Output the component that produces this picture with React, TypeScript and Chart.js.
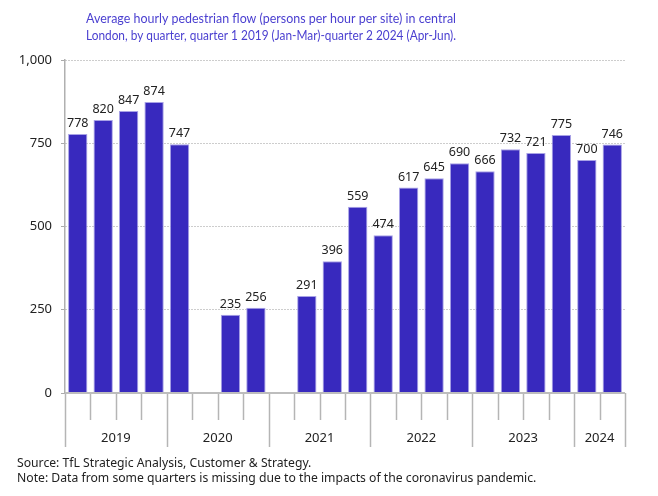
import React, { useEffect, useRef } from "react";
import { Chart, registerables } from "chart.js";

Chart.register(...registerables);

const quarters: string[] = [
  "2019 Q1", "2019 Q2", "2019 Q3", "2019 Q4",
  "2020 Q1", "2020 Q2", "2020 Q3", "2020 Q4",
  "2021 Q1", "2021 Q2", "2021 Q3", "2021 Q4",
  "2022 Q1", "2022 Q2", "2022 Q3", "2022 Q4",
  "2023 Q1", "2023 Q2", "2023 Q3", "2023 Q4",
  "2024 Q1", "2024 Q2",
];
const flow: (number | null)[] = [
  778, 820, 847, 874,
  747, null, 235, 256,
  null, 291, 396, 559,
  474, 617, 645, 690,
  666, 732, 721, 775,
  700, 746,
];
const years: string[] = ["2019", "2020", "2021", "2022", "2023", "2024"];
const yTicks: number[] = [0, 250, 500, 750, 1000];
const titleLines: string[] = [
  "Average hourly pedestrian flow (persons per hour per site) in central",
  "London, by quarter, quarter 1 2019 (Jan-Mar)-quarter 2 2024 (Apr-Jun).",
];
const notes: string[] = [
  "Source: TfL Strategic Analysis, Customer & Strategy.",
  "Note: Data from some quarters is missing due to the impacts of the coronavirus pandemic.",
];

const FONT = "'Noto Sans', sans-serif";
const TITLE_FONT = "Lato, sans-serif";

export default function App() {
  const ref = useRef<HTMLCanvasElement>(null);
  useEffect(() => {
    if (!ref.current) return;
    const decor = {
      id: "decor",
      afterDatasetsDraw(chart: any) {
        const ctx = chart.ctx;
        const xs = chart.scales.x;
        const ys = chart.scales.y;
        const area = chart.chartArea;
        ctx.save();
        // value labels
        ctx.fillStyle = "#222";
        ctx.font = `12.5px ${FONT}`;
        ctx.textAlign = "center";
        ctx.textBaseline = "alphabetic";
        const meta = chart.getDatasetMeta(0);
        meta.data.forEach((el: any, i: number) => {
          const v = flow[i];
          if (v == null) return;
          ctx.fillText(String(v), el.x, el.y - 7);
        });
        // x axis line and ticks
        const y0 = ys.getPixelForValue(0);
        const half = (xs.getPixelForValue(1) - xs.getPixelForValue(0)) / 2;
        ctx.strokeStyle = "#b5b5b5";
        ctx.lineWidth = 1.5;
        for (let i = 0; i <= quarters.length; i++) {
          const x =
            i < quarters.length
              ? xs.getPixelForValue(i) - half
              : xs.getPixelForValue(quarters.length - 1) + half;
          const isYear = i % 4 === 0 || i === quarters.length;
          ctx.beginPath();
          ctx.moveTo(Math.round(x) + 0.5, y0);
          ctx.lineTo(Math.round(x) + 0.5, y0 + (isYear ? 54 : 27));
          ctx.stroke();
        }
        ctx.lineWidth = 2;
        ctx.strokeStyle = "#bdbdbd";
        ctx.beginPath();
        ctx.moveTo(area.left, y0);
        ctx.lineTo(area.right, y0);
        ctx.stroke();
        // year labels
        ctx.fillStyle = "#222";
        ctx.font = `13px ${FONT}`;
        ctx.textBaseline = "middle";
        years.forEach((yr, k) => {
          const first = k * 4;
          const last = Math.min(first + 3, quarters.length - 1);
          const cx = (xs.getPixelForValue(first) + xs.getPixelForValue(last)) / 2;
          ctx.fillText(yr, cx, y0 + 45);
        });
        // title (slightly condensed to match the narrow original face)
        ctx.fillStyle = "#4a3fd0";
        ctx.font = `13.8px ${TITLE_FONT}`;
        ctx.textAlign = "left";
        ctx.textBaseline = "alphabetic";
        const targetW = 370;
        titleLines.forEach((t, k) => {
          const w = ctx.measureText(t).width;
          const sx = Math.min(1, targetW / w);
          ctx.save();
          ctx.translate(86, 23 + k * 17);
          ctx.scale(sx, 1);
          ctx.fillText(t, 0, 0);
          ctx.restore();
        });
        // notes
        ctx.fillStyle = "#222";
        ctx.font = `12.2px ${FONT}`;
        notes.forEach((t, k) => ctx.fillText(t, 17, 467 + k * 15));
        ctx.restore();
      },
    };
    const chart = new Chart(ref.current, {
      type: "bar",
      data: {
        labels: quarters,
        datasets: [
          {
            data: flow,
            backgroundColor: "#3829be",
            borderColor: "#a8a2e6",
            borderWidth: 1,
            barPercentage: 0.76,
            categoryPercentage: 1,
          },
        ],
      },
      options: {
        animation: false,
        responsive: false,
        maintainAspectRatio: false,
        layout: { padding: { top: 60, bottom: 103, right: 33, left: 0 } },
        plugins: { legend: { display: false }, tooltip: { enabled: false }, title: { display: false } },
        scales: {
          x: { display: false, offset: true },
          y: {
            min: 0,
            max: 1000,
            afterFit(scale: any) {
              scale.width = 65;
            },
            afterBuildTicks(scale: any) {
              scale.ticks = yTicks.map((v) => ({ value: v }));
            },
            ticks: {
              color: "#222",
              font: { size: 13, family: FONT },
              padding: 9,
              callback: (v: any) => Number(v).toLocaleString("en-GB"),
            },
            grid: { color: "#9a9a9a", tickLength: 4, tickColor: "#aaa", lineWidth: 1 },
            border: { display: true, color: "#b0b0b0", width: 1.5, dash: [1, 2] },
          },
        },
      },
      plugins: [decor],
    });
    return () => chart.destroy();
  }, []);
  return (
    <div style={{ position: "fixed", left: 0, top: 0, width: 658, height: 496, background: "#fff" }}>
      <canvas ref={ref} width={658} height={496} style={{ width: 658, height: 496 }} />
    </div>
  );
}
